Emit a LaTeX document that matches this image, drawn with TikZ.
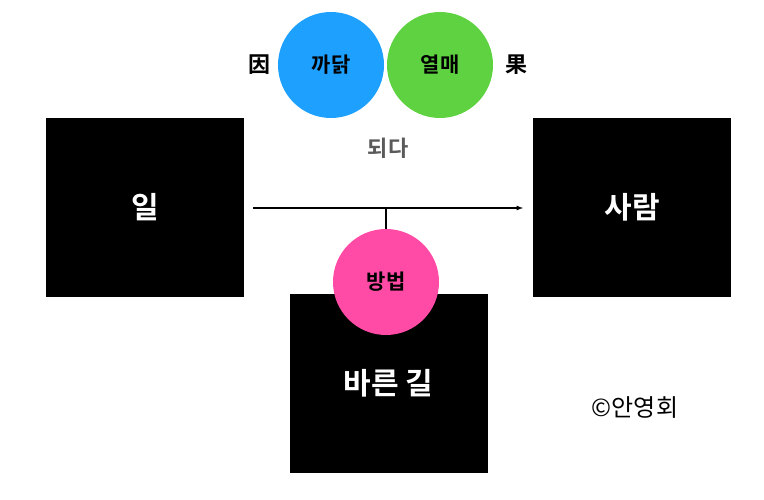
\documentclass[tikz,border=0pt]{standalone}
\usepackage{fontspec}
\newfontfamily\kr{Noto Sans CJK KR}[BoldFont={Noto Sans CJK KR Bold}]
\begin{document}
\begin{tikzpicture}[x=1pt,y=-1pt,
  blk/.style={fill=black,text=white,minimum width=198pt,minimum height=179pt,inner sep=0pt,font=\kr\bfseries\fontsize{30}{30}\selectfont},
  circ/.style={circle,minimum size=106pt,inner sep=0pt,font=\kr\bfseries\fontsize{21}{21}\selectfont},
  lbl/.style={font=\kr\bfseries\fontsize{22}{22}\selectfont}]
\useasboundingbox (0,0) rectangle (764,500);
\node[blk] (il) at (145,207.5) {일};
\node[blk] (saram) at (632,207.5) {사람};
\node[blk] (gil) at (388.5,383.5) {바른 길};
\node[circ,fill={rgb,255:red,30;green,160;blue,255}] (kkadak) at (331,65) {까닭};
\node[circ,fill={rgb,255:red,95;green,210;blue,65}] (yeolmae) at (440,65) {열매};
\node[lbl] (in) at (259,65) {因};
\node[lbl] (gwa) at (516,65) {果};
\node[lbl,text={rgb,255:red,90;green,90;blue,90}] (doeda) at (388,148) {되다};
\node[circ,fill={rgb,255:red,255;green,75;blue,165}] (bangbeop) at (386,282) {방법};
\coordinate (a1) at (253,208);
\coordinate (a2) at (523,208);
\coordinate (m) at (386,208);
\draw[-latex,line width=1.2pt] (a1) -- (a2);
\draw[line width=1.2pt] (m) -- (bangbeop.north);
\node[lbl,font=\kr\fontsize{24}{24}\selectfont] (copy) at (635,408) {©안영회};
\end{tikzpicture}
\end{document}
